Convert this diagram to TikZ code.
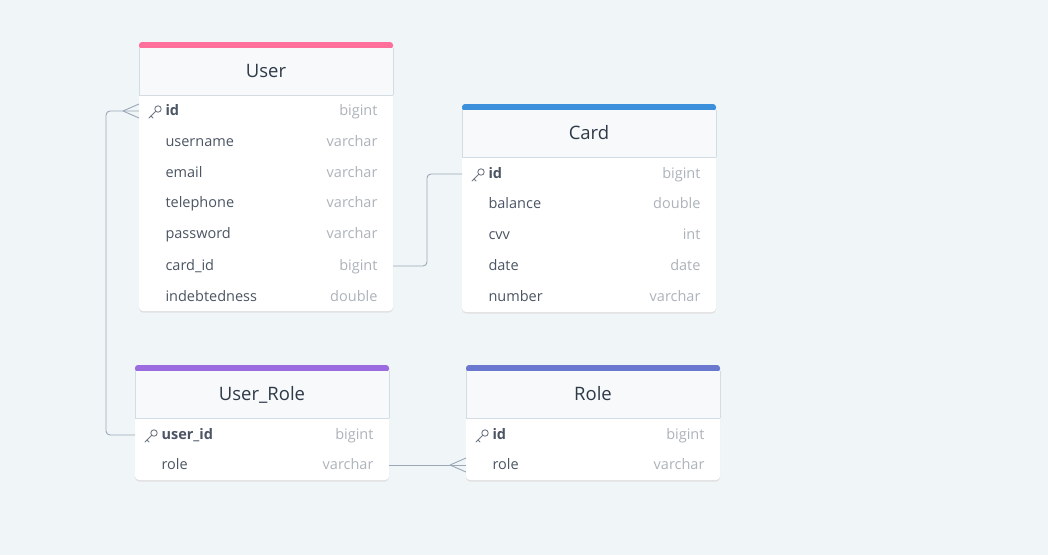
\documentclass[tikz,border=0pt]{standalone}
\usepackage{fontspec}
\setmainfont{Open Sans}
\definecolor{bg}{HTML}{F0F5F8}
\definecolor{hdr}{HTML}{F7F9FB}
\definecolor{brd}{HTML}{D3DBE3}
\definecolor{ttl}{HTML}{2F3A48}
\definecolor{fld}{HTML}{4B5563}
\definecolor{typ}{HTML}{ADB3BA}
\definecolor{lnk}{HTML}{9AA8B8}
\definecolor{cpink}{HTML}{FF6F9C}
\definecolor{cblue}{HTML}{3B8FDB}
\definecolor{cpurp}{HTML}{9B6BE0}
\definecolor{cindi}{HTML}{6B78D0}
\tikzset{x=1pt,y=-1pt,
 ttltext/.style={font=\fontsize{18.5}{20}\selectfont,text=ttl,text height=13pt,text depth=4pt},
 fldtext/.style={font=\fontsize{14.5}{16}\selectfont,text=fld,anchor=west,text height=11pt,text depth=3pt},
 keytext/.style={fldtext,font=\fontsize{14.5}{16}\selectfont\bfseries},
 typtext/.style={font=\fontsize{14.5}{16}\selectfont,text=typ,anchor=east,text height=11pt,text depth=3pt},
 link/.style={draw=lnk,line width=0.9pt,rounded corners=4pt}}
\newcommand{\keyicon}[2]{\draw[fld!80,line width=0.9pt,line cap=round] (#1-6,#2+6)--(#1+1,#2-1);
 \draw[fld!80,line width=0.9pt,line cap=round] (#1-4,#2+4)--(#1-2,#2+6);
 \draw[fld!80,line width=0.9pt,fill=white] (#1+3,#2-3) circle (3.2);}
% #1 name #2 x0 #3 x1 #4 top #5 header bottom #6 bottom #7 color #8 title
\newcommand{\tbl}[8]{
 \fill[black!12,rounded corners=4pt] (#2,#4+1.5) rectangle (#3,#6+1.5);
 \fill[white,rounded corners=4pt] (#2,#4) rectangle (#3,#6);
 \fill[#7,rounded corners=3pt] (#2,#4) rectangle (#3,#4+7);
 \fill[hdr] (#2,#4+6) rectangle (#3,#5);
 \draw[brd,line width=0.6pt] (#2,#5)--(#3,#5);
 \draw[brd,line width=0.6pt] (#2,#4+6)--(#2,#5) (#3,#4+6)--(#3,#5);
 \node[ttltext] (#1) at ({(#2+#3)/2},{(#4+6+#5)/2+1}) {#8};}
\begin{document}
\begin{tikzpicture}
\fill[bg] (0,0) rectangle (1048,555);
\useasboundingbox (0,0) rectangle (1048,555);
% User
\tbl{user}{139}{393}{42}{95}{311}{cpink}{User}
\keyicon{155}{112}
\node[keytext] (uid) at (162,111) {id}; \node[typtext] at (381,111) {bigint};
\node[fldtext] at (162,142) {username}; \node[typtext] at (381,142) {varchar};
\node[fldtext] at (162,173) {email}; \node[typtext] at (381,173) {varchar};
\node[fldtext] at (162,203) {telephone}; \node[typtext] at (381,203) {varchar};
\node[fldtext] at (162,234) {password}; \node[typtext] at (381,234) {varchar};
\node[fldtext] at (162,266) {card\_id}; \node[typtext] at (381,266) {bigint};
\node[fldtext] at (162,297) {indebtedness}; \node[typtext] at (381,297) {double};
% Card
\tbl{card}{462}{716}{104}{157}{312}{cblue}{Card}
\keyicon{478}{175}
\node[keytext] at (485,174) {id}; \node[typtext] at (704,174) {bigint};
\node[fldtext] at (485,204) {balance}; \node[typtext] at (704,204) {double};
\node[fldtext] at (485,235) {cvv}; \node[typtext] at (704,235) {int};
\node[fldtext] at (485,266) {date}; \node[typtext] at (704,266) {date};
\node[fldtext] at (485,297) {number}; \node[typtext] at (704,297) {varchar};
% User_Role
\tbl{ur}{135}{389}{365}{418}{480}{cpurp}{User\_Role}
\keyicon{151}{436}
\node[keytext] at (158,435) {user\_id}; \node[typtext] at (377,435) {bigint};
\node[fldtext] at (158,465) {role}; \node[typtext] at (377,465) {varchar};
% Role
\tbl{role}{466}{720}{365}{418}{480}{cindi}{Role}
\keyicon{482}{436}
\node[keytext] at (489,435) {id}; \node[typtext] at (708,435) {bigint};
\node[fldtext] at (489,465) {role}; \node[typtext] at (708,465) {varchar};
% coordinates for links
\coordinate (a1) at (139,111); \coordinate (a2) at (135,435);
\coordinate (b1) at (393,266); \coordinate (b2) at (462,174);
\coordinate (c1) at (389,465); \coordinate (c2) at (466,465);
\draw[link] (a1) -- (106,111) -- (106,435) -- (a2);
\draw[link] (123,111) -- (139,104) (123,111) -- (139,118);
\draw[link] (b1) -- (427,266) -- (427,174) -- (b2);
\draw[link] (c1) -- (c2);
\draw[link] (450,465) -- (466,458) (450,465) -- (466,472);
\end{tikzpicture}
\end{document}
